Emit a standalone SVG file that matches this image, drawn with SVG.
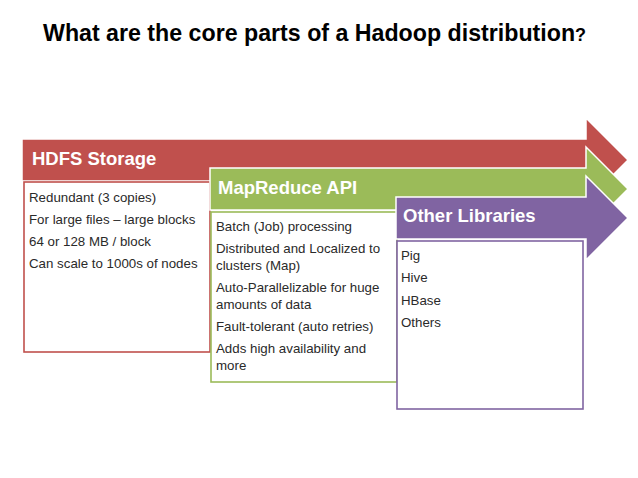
<svg xmlns="http://www.w3.org/2000/svg" width="638" height="478" viewBox="0 0 638 478">
<style>
.title{font-family:"Liberation Sans",Arial,sans-serif;font-weight:bold;font-size:23.2px;fill:#000}
.hdr{font-family:"Liberation Sans",Arial,sans-serif;font-weight:bold;font-size:18.5px;fill:#fff}
.txt{font-family:"Liberation Sans",Arial,sans-serif;font-size:13.3px;fill:#2a2a2a}
.arrow{stroke:#fff;stroke-width:1.5}
.box{fill:#fff;stroke-width:1.6}
</style>
<rect width="638" height="478" fill="#fff"/>
<text class="title" x="43" y="41">What are the core parts of a Hadoop distribution<tspan font-size="18">?</tspan></text>

<g id="hdfs">
<polygon class="arrow" fill="#C0504D" points="22,139 586,139 586,118 628,160 586,202 586,181 22,181"/>
<rect class="box" stroke="#C0504D" x="24" y="182" width="186" height="170"/>
<text class="hdr" x="32" y="165">HDFS Storage</text>
<text class="txt" x="29" y="202">Redundant (3 copies)</text>
<text class="txt" x="29" y="224">For large files – large blocks</text>
<text class="txt" x="29" y="246">64 or 128 MB / block</text>
<text class="txt" x="29" y="268">Can scale to 1000s of nodes</text>
</g>

<g id="mapreduce">
<polygon class="arrow" fill="#9BBB59" points="210,168 586,168 586,147 628,189 586,231 586,210 210,210"/>
<rect class="box" stroke="#9BBB59" x="211" y="212" width="186" height="170"/>
<text class="hdr" x="218" y="194">MapReduce API</text>
<text class="txt" x="216" y="231">Batch (Job) processing</text>
<text class="txt" x="216" y="253">Distributed and Localized to</text>
<text class="txt" x="216" y="270">clusters (Map)</text>
<text class="txt" x="216" y="292">Auto-Parallelizable for huge</text>
<text class="txt" x="216" y="309">amounts of data</text>
<text class="txt" x="216" y="331">Fault-tolerant (auto retries)</text>
<text class="txt" x="216" y="353">Adds high availability and</text>
<text class="txt" x="216" y="370">more</text>
</g>

<g id="other">
<polygon class="arrow" fill="#8064A2" points="396,197 586,197 586,176 628,218 586,260 586,239 396,239"/>
<rect class="box" stroke="#8064A2" x="397" y="241" width="186" height="168"/>
<text class="hdr" x="403" y="222">Other Libraries</text>
<text class="txt" x="401" y="260">Pig</text>
<text class="txt" x="401" y="282">Hive</text>
<text class="txt" x="401" y="305">HBase</text>
<text class="txt" x="401" y="327">Others</text>
</g>
<g id="connectors"/>
</svg>
